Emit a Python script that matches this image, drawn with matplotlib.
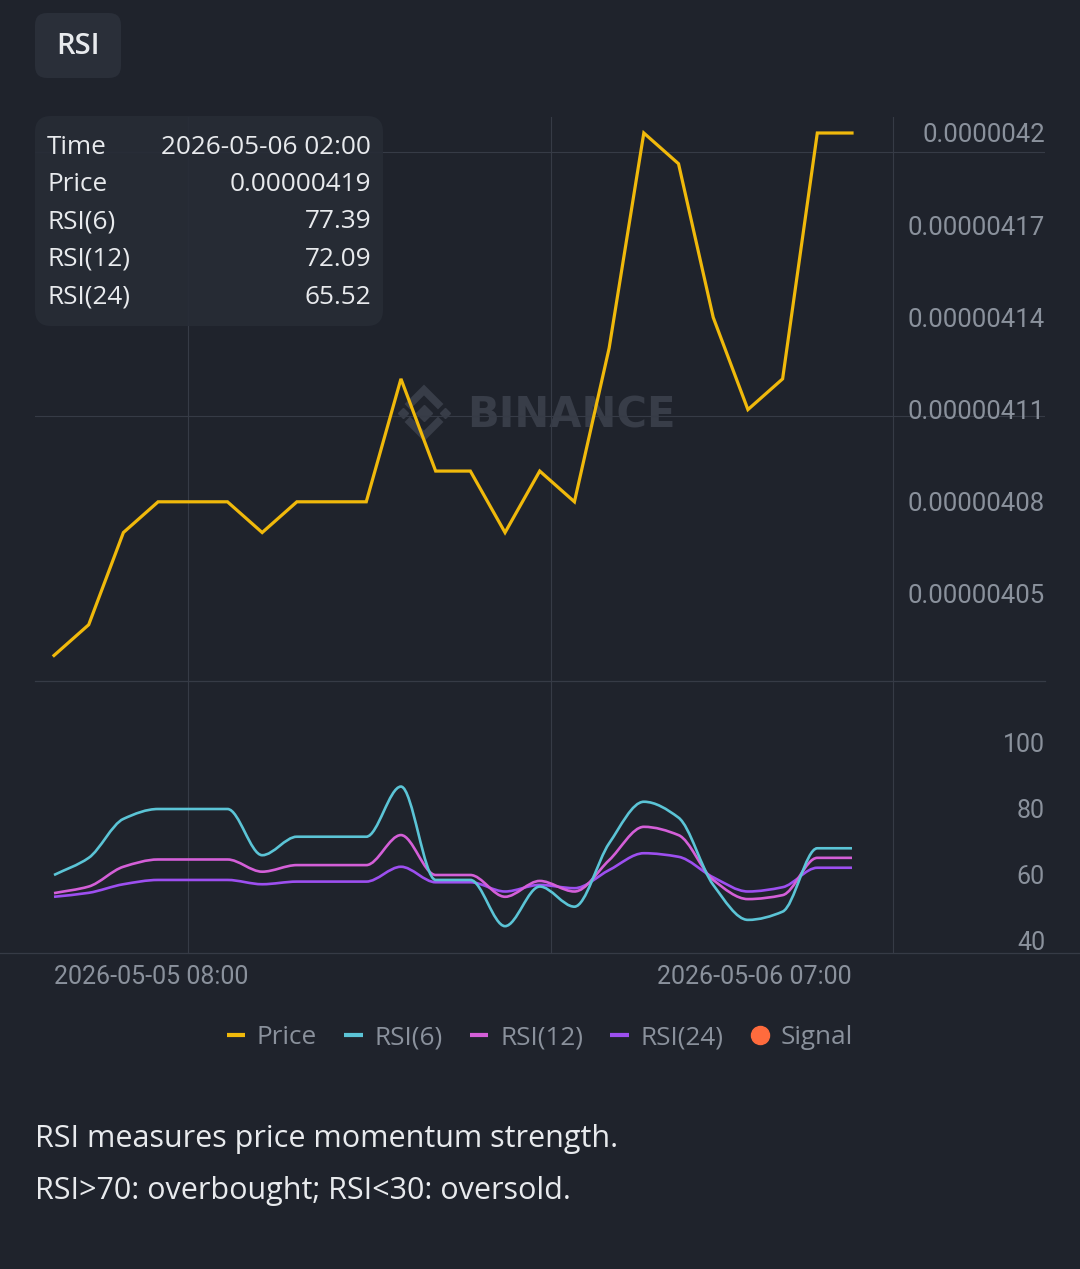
import numpy as np
import pandas as pd
import matplotlib
matplotlib.use("Agg")
import matplotlib.pyplot as plt
from matplotlib.path import Path
from matplotlib.patches import PathPatch, FancyBboxPatch
from matplotlib.lines import Line2D
from matplotlib.ticker import FixedLocator, FuncFormatter

# ---- data ----
times = pd.date_range("2026-05-05 08:00", periods=24, freq="h")
price = [4.03, 4.04, 4.07, 4.08, 4.08, 4.08, 4.07, 4.08, 4.08, 4.08, 4.12, 4.09,
         4.09, 4.07, 4.09, 4.08, 4.13, 4.20, 4.19, 4.14, 4.11, 4.12, 4.20, 4.20]  # x 1e-6
rsi6 = [60.0, 65.2, 77.0, 80.0, 80.0, 80.0, 66.0, 71.6, 71.6, 71.6, 86.8, 58.5,
        58.5, 44.5, 56.5, 50.4, 69.6, 82.2, 77.39, 57.0, 46.4, 48.9, 68.1, 68.1]
rsi12 = [54.5, 56.5, 62.5, 64.7, 64.7, 64.7, 61.0, 63.0, 63.0, 63.0, 72.1, 60.0,
         60.0, 53.4, 58.2, 55.0, 64.5, 74.6, 72.09, 58.5, 52.7, 53.9, 65.2, 65.2]
rsi24 = [53.4, 54.6, 57.2, 58.5, 58.5, 58.5, 57.2, 58.0, 58.0, 58.0, 62.5, 57.8,
         57.8, 55.0, 57.0, 56.0, 61.5, 66.6, 65.52, 59.3, 55.0, 56.3, 62.2, 62.2]
price_ticks = [4.05, 4.08, 4.11, 4.14, 4.17, 4.20]
rsi_ticks = [40, 60, 80, 100]
tip_index = 18
legend_labels = ["Price", "RSI(6)", "RSI(12)", "RSI(24)", "Signal"]
notes = ["RSI measures price momentum strength.",
         "RSI>70: overbought; RSI<30: oversold."]

# ---- style ----
W, H = 1080, 1269
BG = "#1f232c"
GRID = "#363b46"
AXIS_TXT = "#8a919c"
TXT = "#e8eaed"
C_PRICE = "#f0b90b"
C_R6 = "#5bc4d6"
C_R12 = "#d45fd8"
C_R24 = "#9d4ff0"
C_SIG = "#ff6b3d"
UI_FONT = ["Open Sans", "DejaVu Sans"]
NUM_FONT = ["Roboto", "DejaVu Sans"]

X0, STEP = 54, (852 - 54) / 23   # pixel position of first point, pixels per hour


def fx(px):
    return px / W


def fy(py):
    return 1 - py / H


def px_to_idx(px):
    return (px - X0) / STEP


def smooth_path(xs, ys):
    # monotone cubic bezier through the points (like echarts smooth lines)
    xs = np.asarray(xs, float)
    ys = np.asarray(ys, float)
    d = np.diff(ys) / np.diff(xs)
    m = np.zeros_like(ys)
    m[0], m[-1] = d[0], d[-1]
    for k in range(1, len(ys) - 1):
        if d[k - 1] * d[k] > 0:
            m[k] = 2 / (1 / d[k - 1] + 1 / d[k])
    verts = [(xs[0], ys[0])]
    codes = [Path.MOVETO]
    for k in range(len(xs) - 1):
        h = xs[k + 1] - xs[k]
        verts += [(xs[k] + h / 3, ys[k] + m[k] * h / 3),
                  (xs[k + 1] - h / 3, ys[k + 1] - m[k + 1] * h / 3),
                  (xs[k + 1], ys[k + 1])]
        codes += [Path.CURVE4] * 3
    return Path(verts, codes)


fig = plt.figure(figsize=(W / 100, H / 100), dpi=100, facecolor=BG)

# background decoration layer in pixel coords
back = fig.add_axes([0, 0, 1, 1], zorder=0)
back.set_xlim(0, W)
back.set_ylim(H, 0)
back.axis("off")
back.set_facecolor(BG)

back.add_patch(FancyBboxPatch((35, 13), 86, 65, boxstyle="round,pad=0,rounding_size=12",
                              facecolor="#2a2f39", edgecolor="none"))
back.text(78, 46, "RSI", color=TXT, fontsize=21, fontweight="semibold", family=UI_FONT,
          ha="center", va="center")

# watermark
WM = "#383d48"
back.text(467, 415, "BINANCE", color=WM, fontsize=30, fontweight="bold", family="DejaVu Sans",
          ha="left", va="center")
back.plot([424], [413], marker="D", ms=8, color=WM, ls="")
back.plot([403, 445], [413, 413], marker="D", ms=5.5, color=WM, ls="")
back.plot([410, 424, 438], [404, 390, 404], color=WM, lw=5.5, solid_joinstyle="miter")
back.plot([410, 424, 438], [422, 436, 422], color=WM, lw=5.5, solid_joinstyle="miter")

xlim = (px_to_idx(35), px_to_idx(1045))
idx = np.arange(len(times))
vlines = [px_to_idx(188), px_to_idx(551), px_to_idx(893)]

# ---- price panel ----
ax_p = fig.add_axes([fx(35), fy(681), fx(1045) - fx(35), fy(117) - fy(681)], zorder=1)
ax_p.set_facecolor("none")
p_per_px = (4.20 - 4.05) / (594 - 133)
ax_p.set_ylim(4.05 - (681 - 594) * p_per_px, 4.20 + (133 - 117) * p_per_px)
ax_p.set_xlim(*xlim)
ax_p.plot(idx, price, color=C_PRICE, lw=2.3, solid_joinstyle="miter", zorder=3)
for v in vlines:
    ax_p.axvline(v, color=GRID, lw=0.8, zorder=1)
for py in (152, 416):
    ax_p.axhline(4.20 - (py - 133) * p_per_px, color=GRID, lw=0.8, zorder=1)
for s in ("top", "left", "right"):
    ax_p.spines[s].set_visible(False)
ax_p.spines["bottom"].set_color(GRID)
ax_p.spines["bottom"].set_linewidth(0.9)
ax_p.set_xticks([])
ax_p.yaxis.set_major_locator(FixedLocator(price_ticks))
ax_p.yaxis.set_major_formatter(FuncFormatter(lambda v, _: f"{v / 1e6:.8f}".rstrip("0")))
ax_p.yaxis.tick_right()
ax_p.tick_params(axis="y", length=0, pad=0, labelsize=18.5, labelcolor=AXIS_TXT)

# ---- RSI panel ----
ax_r = fig.add_axes([fx(35), fy(953), fx(1045) - fx(35), fy(681) - fy(953)], zorder=1)
ax_r.set_facecolor("none")
r_per_px = (100 - 40) / (941 - 743)
ax_r.set_ylim(40 - (953 - 941) * r_per_px, 100 + (743 - 681) * r_per_px)
ax_r.set_xlim(*xlim)
for v in vlines:
    ax_r.axvline(v, color=GRID, lw=0.8, zorder=1)
for vals, col in ((rsi24, C_R24), (rsi12, C_R12), (rsi6, C_R6)):
    ax_r.add_patch(PathPatch(smooth_path(idx, vals), fill=False, edgecolor=col, lw=1.9,
                             zorder=3, capstyle="butt"))
for s in ax_r.spines.values():
    s.set_visible(False)
ax_r.yaxis.set_major_locator(FixedLocator(rsi_ticks))
ax_r.yaxis.tick_right()
ax_r.tick_params(axis="y", length=0, pad=0, labelsize=18, labelcolor=AXIS_TXT)
ax_r.set_xticks([0, len(times) - 1])
ax_r.set_xticklabels([times[0].strftime("%Y-%m-%d %H:%M"), times[-1].strftime("%Y-%m-%d %H:%M")])
ax_r.tick_params(axis="x", length=0, pad=9, labelsize=18, labelcolor=AXIS_TXT)

for a in (ax_p, ax_r):
    for t in a.yaxis.get_major_ticks():
        t.label2.set_horizontalalignment("right")
        t.label2.set_fontfamily(NUM_FONT)
xl = ax_r.get_xticklabels()
xl[0].set_horizontalalignment("left")
xl[1].set_horizontalalignment("right")
for t in xl:
    t.set_fontfamily(NUM_FONT)

fig.add_artist(Line2D([0, 1], [fy(953), fy(953)], transform=fig.transFigure,
                      color=GRID, lw=0.9))

# ---- tooltip (front layer) ----
front = fig.add_axes([0, 0, 1, 1], zorder=3)
front.set_xlim(0, W)
front.set_ylim(H, 0)
front.axis("off")
front.set_facecolor("none")
front.add_patch(FancyBboxPatch((35, 116), 348, 210, boxstyle="round,pad=0,rounding_size=16",
                               facecolor="#272c36", edgecolor="none", alpha=0.9))
tip_rows = [("Time", times[tip_index].strftime("%Y-%m-%d %H:%M")),
            ("Price", f"{price[tip_index] / 1e6:.8f}"),
            ("RSI(6)", f"{rsi6[tip_index]:.2f}"),
            ("RSI(12)", f"{rsi12[tip_index]:.2f}"),
            ("RSI(24)", f"{rsi24[tip_index]:.2f}")]
for k, (lab, val) in enumerate(tip_rows):
    yy = 147 + k * 37.5
    front.text(47, yy, lab, color=TXT, fontsize=18.8, family=UI_FONT, ha="left", va="center")
    front.text(371, yy, val, color=TXT, fontsize=18.8, family=UI_FONT, ha="right", va="center")

# ---- legend ----
handles = [Line2D([], [], color=c, lw=3, solid_capstyle="butt")
           for c in (C_PRICE, C_R6, C_R12, C_R24)]
handles.append(Line2D([], [], color=C_SIG, marker="o", ms=13, ls=""))
leg = fig.legend(handles, legend_labels, loc="center", bbox_to_anchor=(fx(540), fy(1038)),
                 ncol=5, frameon=False, labelcolor=AXIS_TXT,
                 handlelength=0.7, handletextpad=0.45, columnspacing=1.05,
                 prop={"family": UI_FONT, "size": 18.8})

# ---- notes ----
for k, line in enumerate(notes):
    back.text(35, 1139 + k * 52, line, color=TXT, fontsize=22, family=UI_FONT,
              ha="left", va="center")

fig.savefig("out.png", dpi=100, facecolor=BG)
